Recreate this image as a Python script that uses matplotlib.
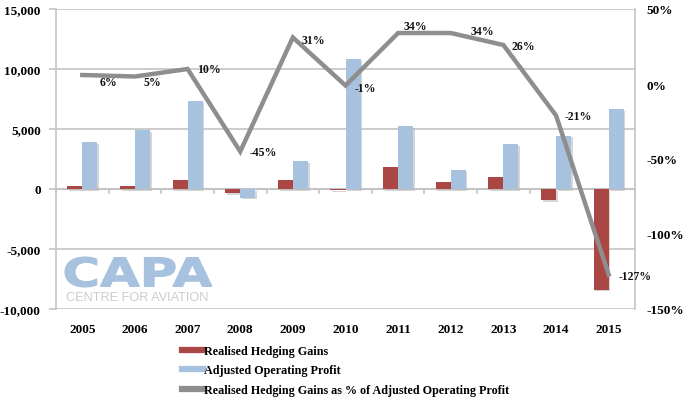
import matplotlib
matplotlib.use("Agg")
import matplotlib.pyplot as plt
import numpy as np
from matplotlib.lines import Line2D
import matplotlib.patheffects as pe
from matplotlib.textpath import TextPath
from matplotlib.patches import PathPatch
from matplotlib.font_manager import FontProperties
from matplotlib.transforms import Affine2D, IdentityTransform

years = ["2005", "2006", "2007", "2008", "2009", "2010", "2011", "2012", "2013", "2014", "2015"]
hedging_gains = [250, 250, 750, -350, 750, -100, 1800, 580, 1000, -920, -8400]
operating_profit = [3900, 4900, 7300, -720, 2330, 10830, 5250, 1580, 3750, 4440, 6670]
hedging_pct = [6, 5, 10, -45, 31, -1, 34, 34, 26, -21, -127]
pct_labels = ["6%", "5%", "10%", "-45%", "31%", "-1%", "34%", "34%", "26%", "-21%", "-127%"]
left_ticks = [-10000, -5000, 0, 5000, 10000, 15000]
right_ticks = [-150, -100, -50, 0, 50]

label_offsets = [(17, -7), (9, -5), (9, 0), (9, -1), (9, -2), (9, -3),
                 (5, 7), (20, 2), (8, -1), (9, -1), (10, -1)]

RED = "#aa4643"
BLUE = "#a7c2df"
GRAY = "#8e8e8e"
GRID = "#c4c4c4"

W, H = 686, 410
fig = plt.figure(figsize=(6.86, 4.10), dpi=100)
ax = fig.add_axes([56/W, 1-310/H, (635-56)/W, 300/H])

x = np.arange(len(years))
w = 0.285
shadow = [pe.SimplePatchShadow(offset=(1.2, -1.2), shadow_rgbFace="#bbbbbb", alpha=0.6), pe.Normal()]
b1 = ax.bar(x - w/2, hedging_gains, w, color=RED, zorder=3)
b2 = ax.bar(x + w/2, operating_profit, w, color=BLUE, zorder=3)
for p in list(b1) + list(b2):
    p.set_path_effects(shadow)

ax.set_xlim(-0.5, len(years) - 0.5)
ax.set_ylim(-10000, 15000)
ax.set_yticks(left_ticks)
ax.set_yticklabels([f"{v:,}" for v in left_ticks])
ax.yaxis.grid(True, color=GRID, linewidth=1.2, zorder=0)
ax.set_axisbelow(True)
for s in ["top", "bottom"]:
    ax.spines[s].set_visible(False)
for s in ["left", "right"]:
    ax.spines[s].set_color(GRID)
    ax.spines[s].set_linewidth(1.2)
ax.tick_params(axis="y", length=5, color=GRID, width=1.2, pad=6)
ax.set_xticks(x)
ax.set_xticklabels(years)
ax.tick_params(axis="x", length=0, pad=10)
ax.axhline(0, color=GRID, linewidth=1.5, zorder=2)
for b in np.arange(-0.5, len(years), 1.0):
    ax.plot([b, b], [0, -350], color=GRID, linewidth=1.2, zorder=2, clip_on=False)

for lab in ax.get_xticklabels() + ax.get_yticklabels():
    lab.set_fontfamily("Liberation Serif")
    lab.set_fontweight("bold")
    lab.set_fontsize(9.5)

ax2 = ax.twinx()
ax2.set_ylim(-150, 50)
ax2.set_yticks(right_ticks)
ax2.set_yticklabels([f"{v}%" for v in right_ticks])
ax2.tick_params(axis="y", length=0, pad=8)
for s in ax2.spines.values():
    s.set_visible(False)
for lab in ax2.get_yticklabels():
    lab.set_fontfamily("Liberation Serif")
    lab.set_fontweight("bold")
    lab.set_fontsize(9.5)
ax2.plot(x, hedging_pct, color=GRAY, linewidth=3.2, solid_joinstyle="miter", zorder=4)
for xi, yi, t, (dx, dy) in zip(x, hedging_pct, pct_labels, label_offsets):
    ax2.annotate(t, (xi, yi), xytext=(dx, dy), textcoords="offset pixels",
                 ha="left", va="center", fontsize=8.5, fontfamily="Liberation Serif",
                 fontweight="bold", color="#111111", zorder=5)

# CAPA watermark: stretch the glyph outline to fill the logo box (pixel coords)
tp = TextPath((0, 0), "CAPA", size=40, prop=FontProperties(family="DejaVu Sans", weight="heavy"))
ext = tp.get_extents()
x0, x1, ytop, ybot = 65, 212, 258, 288
sx = (x1 - x0) / ext.width
sy = (ybot - ytop) / ext.height
tr = Affine2D().translate(-ext.x0, -ext.y0).scale(sx, sy).translate(x0, H - ybot)
logo = PathPatch(tr.transform_path(tp), facecolor=BLUE, edgecolor=BLUE, linewidth=0.8,
                 transform=IdentityTransform())
fig.patches.append(logo)
fig.text(66/W, 1-301/H, "CENTRE FOR AVIATION", fontsize=9.2, fontfamily="Liberation Sans",
         color="#cccccc", ha="left", va="baseline")

handles = [Line2D([], [], color=RED, linewidth=4.5),
           Line2D([], [], color=BLUE, linewidth=4.5),
           Line2D([], [], color=GRAY, linewidth=4.5)]
labels = ["Realised Hedging Gains", "Adjusted Operating Profit",
          "Realised Hedging Gains as % of Adjusted Operating Profit"]
fig.legend(handles, labels, loc="upper left", bbox_to_anchor=(182/W, 1-346/H),
           frameon=False, borderpad=0, borderaxespad=0, handlelength=1.7,
           handletextpad=0.15, labelspacing=0.62,
           prop={"family": "Liberation Serif", "weight": "bold", "size": 8.7})

fig.savefig("out.png", dpi=100)
